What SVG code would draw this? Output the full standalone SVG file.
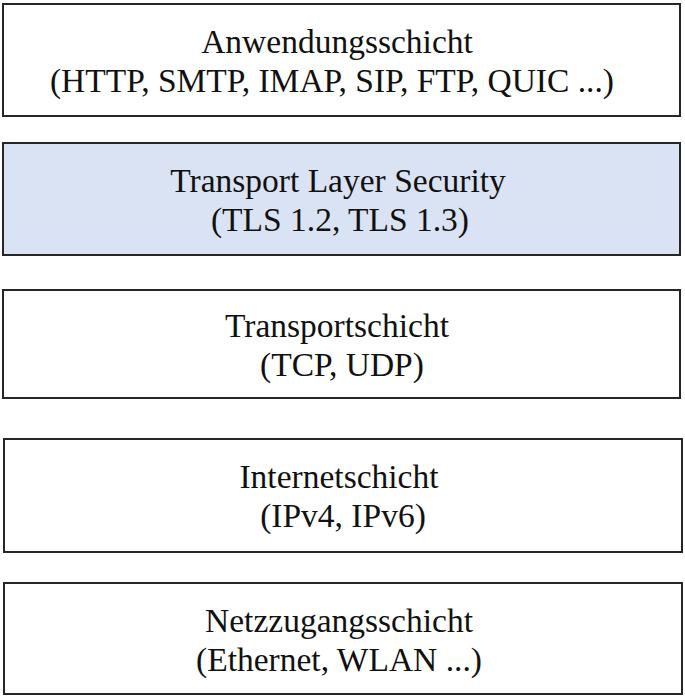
<svg xmlns="http://www.w3.org/2000/svg" width="685" height="696" viewBox="0 0 685 696">
  <style>
    .box { fill: #ffffff; stroke: #262626; stroke-width: 2; }
    .tls { fill: #dae3f3; }
    .t { font-family: "Liberation Serif", "Times New Roman", serif; font-size: 33.5px; fill: #111111; text-anchor: middle; }
  </style>
  <rect width="685" height="696" fill="#ffffff"/>
  <g id="anwendungsschicht">
    <rect class="box" x="3" y="4" width="677" height="112"/>
    <text class="t" x="337" y="53">Anwendungsschicht</text>
    <text class="t" x="332" y="92">(HTTP, SMTP, IMAP, SIP, FTP, QUIC ...)</text>
  </g>
  <g id="tls">
    <rect class="box tls" x="3" y="143" width="677" height="112"/>
    <text class="t" x="338" y="192">Transport Layer Security</text>
    <text class="t" x="340" y="231">(TLS 1.2, TLS 1.3)</text>
  </g>
  <g id="transportschicht">
    <rect class="box" x="3" y="290" width="677" height="108"/>
    <text class="t" x="337" y="337">Transportschicht</text>
    <text class="t" x="342" y="376">(TCP, UDP)</text>
  </g>
  <g id="internetschicht">
    <rect class="box" x="4" y="439" width="678" height="113"/>
    <text class="t" x="339" y="488">Internetschicht</text>
    <text class="t" x="343" y="527">(IPv4, IPv6)</text>
  </g>
  <g id="netzzugangsschicht">
    <rect class="box" x="4" y="583" width="678" height="111"/>
    <text class="t" x="339" y="632">Netzzugangsschicht</text>
    <text class="t" x="339" y="671">(Ethernet, WLAN ...)</text>
  </g>
  <g id="connectors"></g>
</svg>
